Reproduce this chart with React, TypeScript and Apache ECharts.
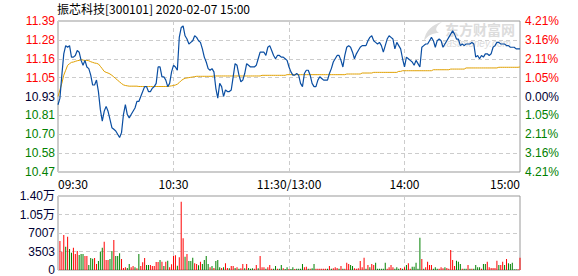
import React, { useEffect, useRef } from "react";
import * as echarts from "echarts";

const titleText = "振芯科技[300101] 2020-02-07 15:00";
const xTickLabels = ["09:30", "10:30", "11:30/13:00", "14:00", "15:00"];
const priceTicks = ["10.47", "10.58", "10.70", "10.81", "10.93", "11.05", "11.16", "11.28", "11.39"];
const pctTicks = ["4.21%", "3.16%", "2.11%", "1.05%", "0.00%", "1.05%", "2.11%", "3.16%", "4.21%"];
const volTicks = ["0", "3503", "7007", "1.05万", "1.40万"];

// minute prices 09:30 .. 11:30, 13:01 .. 15:00 (241 points)
const prices = [
  10.88, 10.92, 11.06, 11.19, 11.24, 11.23, 11.24, 11.17, 11.17, 11.18,
  11.21, 11.20, 11.15, 11.12, 11.15, 11.11, 11.10, 11.06, 11.00, 11.00,
  11.03, 10.96, 10.85, 10.78, 10.84, 10.87, 10.84, 10.79, 10.74, 10.73,
  10.72, 10.70, 10.68, 10.71, 10.82, 10.88, 10.82, 10.80, 10.82, 10.84,
  10.86, 10.90, 10.90, 10.93, 10.96, 10.99, 10.99, 10.96, 10.96, 10.98,
  10.99, 11.01, 11.11, 11.11, 11.05, 11.05, 11.03, 10.99, 11.01, 11.08,
  11.12, 11.11, 11.09, 11.29, 11.35, 11.36, 11.30, 11.28, 11.25, 11.26,
  11.27, 11.30, 11.29, 11.27, 11.26, 11.22, 11.17, 11.14, 11.10, 11.09,
  11.10, 11.08, 10.98, 10.92, 11.01, 10.99, 10.93, 10.97, 10.96, 10.96,
  10.97, 11.05, 11.13, 11.12, 11.06, 11.02, 11.03, 11.07, 11.13, 11.12,
  11.11, 11.11, 11.11, 11.12, 11.16, 11.20, 11.20, 11.20, 11.18, 11.23,
  11.24, 11.21, 11.18, 11.16, 11.18, 11.18, 11.17, 11.17, 11.16, 11.15,
  11.11, 11.08, 11.06, 11.06, 11.07, 11.06, 11.01, 10.99, 11.07, 11.09,
  11.09, 11.06, 11.01, 10.99, 10.99, 11.03, 11.05, 11.04, 11.03, 11.03,
  11.03, 11.07, 11.10, 11.14, 11.16, 11.18, 11.18, 11.15, 11.11, 11.18,
  11.23, 11.24, 11.23, 11.20, 11.16, 11.19, 11.21, 11.23, 11.24, 11.24,
  11.24, 11.27, 11.29, 11.30, 11.27, 11.26, 11.25, 11.26, 11.24, 11.20,
  11.24, 11.28, 11.30, 11.29, 11.28, 11.22, 11.26, 11.24, 11.22, 11.16,
  11.11, 11.17, 11.16, 11.15, 11.14, 11.12, 11.15, 11.13, 11.11, 11.23,
  11.24, 11.25, 11.25, 11.27, 11.29, 11.27, 11.23, 11.27, 11.28, 11.27,
  11.23, 11.25, 11.27, 11.29, 11.31, 11.33, 11.31, 11.28, 11.28, 11.24,
  11.25, 11.24, 11.25, 11.25, 11.25, 11.26, 11.25, 11.17, 11.18, 11.16,
  11.18, 11.17, 11.19, 11.19, 11.18, 11.19, 11.23, 11.24, 11.26, 11.26,
  11.25, 11.25, 11.25, 11.24, 11.24, 11.23, 11.23, 11.23, 11.22, 11.22,
  11.22,
];

const avgPrices = [
  10.930, 10.970, 11.010, 11.060, 11.090, 11.120, 11.130, 11.138, 11.140, 11.144,
  11.148, 11.150, 11.154, 11.152, 11.150, 11.150, 11.148, 11.142, 11.138, 11.134,
  11.132, 11.128, 11.114, 11.099, 11.083, 11.077, 11.073, 11.067, 11.059, 11.049,
  11.039, 11.029, 11.019, 11.009, 11.001, 10.997, 10.995, 10.993, 10.993, 10.993,
  10.993, 10.993, 10.991, 10.991, 10.991, 10.991, 10.991, 10.991, 10.991, 10.991,
  10.991, 10.991, 10.991, 10.991, 10.991, 10.991, 10.991, 10.991, 10.993, 10.995,
  10.997, 11.000, 11.005, 11.015, 11.027, 11.035, 11.041, 11.043, 11.045, 11.047,
  11.049, 11.051, 11.053, 11.053, 11.053, 11.053, 11.053, 11.053, 11.053, 11.053,
  11.053, 11.055, 11.055, 11.055, 11.055, 11.055, 11.055, 11.055, 11.055, 11.055,
  11.055, 11.055, 11.055, 11.055, 11.055, 11.055, 11.055, 11.055, 11.055, 11.055,
  11.055, 11.055, 11.055, 11.055, 11.055, 11.055, 11.059, 11.059, 11.059, 11.059,
  11.059, 11.059, 11.059, 11.059, 11.059, 11.059, 11.059, 11.059, 11.059, 11.063,
  11.063, 11.063, 11.063, 11.063, 11.063, 11.063, 11.063, 11.063, 11.063, 11.063,
  11.063, 11.063, 11.063, 11.063, 11.063, 11.063, 11.063, 11.063, 11.063, 11.063,
  11.063, 11.063, 11.063, 11.063, 11.063, 11.063, 11.063, 11.063, 11.063, 11.063,
  11.067, 11.067, 11.067, 11.067, 11.067, 11.067, 11.067, 11.067, 11.073, 11.073,
  11.073, 11.073, 11.073, 11.073, 11.077, 11.077, 11.077, 11.077, 11.077, 11.077,
  11.077, 11.077, 11.077, 11.077, 11.077, 11.077, 11.077, 11.083, 11.083, 11.087,
  11.087, 11.087, 11.087, 11.087, 11.087, 11.087, 11.087, 11.087, 11.087, 11.087,
  11.087, 11.087, 11.087, 11.087, 11.087, 11.093, 11.093, 11.093, 11.093, 11.093,
  11.093, 11.093, 11.093, 11.093, 11.097, 11.097, 11.097, 11.097, 11.097, 11.097,
  11.097, 11.097, 11.104, 11.104, 11.104, 11.104, 11.104, 11.104, 11.104, 11.104,
  11.104, 11.104, 11.104, 11.104, 11.104, 11.104, 11.104, 11.104, 11.104, 11.108,
  11.108, 11.108, 11.108, 11.108, 11.108, 11.108, 11.108, 11.108, 11.108, 11.108,
  11.110,
];

const volumes = [
  0, 5490, 3470, 6630, 4420, 6310, 3980, 3280, 4230, 3030,
  3600, 2840, 3030, 3030, 2650, 2650, 950, 2270, 2150, 2270,
  1140, 1700, 3470, 4230, 5370, 1890, 1890, 2080, 3600, 5680,
  2650, 2650, 3160, 2080, 380, 500, 380, 1140, 500, 760,
  500, 320, 3030, 760, 1450, 2270, 950, 950, 950, 760,
  760, 1510, 1510, 1890, 1580, 760, 1580, 1770, 500, 1070,
  2650, 2780, 820, 2400, 12940, 6000, 2520, 3030, 1700, 1700,
  2340, 1260, 1140, 880, 1580, 1140, 1890, 2650, 1140, 500,
  760, 380, 1700, 1890, 500, 380, 500, 1260, 380, 320,
  760, 760, 380, 500, 250, 320, 1140, 320, 1140, 380,
  250, 320, 250, 950, 320, 2650, 500, 500, 250, 500,
  950, 250, 250, 760, 250, 250, 950, 320, 200, 500,
  200, 200, 500, 200, 250, 250, 250, 1140, 500, 630,
  250, 250, 320, 1140, 250, 250, 250, 250, 250, 250,
  250, 760, 250, 320, 500, 380, 250, 760, 250, 250,
  1390, 1140, 950, 760, 320, 250, 320, 1700, 500, 2340,
  250, 950, 500, 1140, 950, 1390, 250, 250, 250, 250,
  1390, 250, 500, 950, 500, 250, 500, 250, 380, 250,
  500, 950, 1260, 250, 630, 630, 1390, 250, 6120, 2080,
  250, 500, 1580, 950, 950, 250, 500, 250, 250, 500,
  320, 500, 380, 250, 3790, 1890, 760, 1770, 1580, 1140,
  250, 250, 250, 950, 250, 250, 250, 950, 500, 500,
  250, 1140, 1140, 1580, 500, 380, 380, 380, 1770, 950,
  950, 1580, 950, 2080, 1260, 1140, 1390, 130, 130, 130,
  2340,
];

// r = up minute (red), g = down minute (green)
const volumeDirs = (
  "rrrrgrggrr" + "rgggrrgggr" + "rgggrrrggr" + "gggrrrggrr" + "grgrrrggrr" +
  "rrrgrgrgrr" + "rrgrrrgrgg" + "grrgrggggr" + "grgggrgrrg" + "rrgrgrrgrg" +
  "ggrrgrrrgr" + "rrggrggrgg" + "rggrggggrr" + "grggrrrrrr" + "grgrrrgrgr" +
  "rrggrrrrrr" + "grgrrggggg" + "grrrrgggrg" + "rgrrgggggr" + "grrrrgggrr" +
  "rgrrrrrggg" + "rggrgrgggg" + "rggrrrrrrg" + "rrgrgggggr" + "r"
).split("");

const UP = "#ff0000";
const DOWN = "#008000";
const SANS = "'Liberation Sans', Arial, 'Noto Sans CJK SC', sans-serif";
const CJK = "'Noto Sans CJK SC', sans-serif";

echarts.graphic.registerShape(
  "emlogo",
  echarts.graphic.extendPath("M19 0 C10 2 2 9 1 19 C5 13 10 11 16 11 C11 8 13 4 19 0 Z", {})
);

const gridLine = { show: true, lineStyle: { color: "#cccccc", type: [4, 3], width: 1 } };

export default function App() {
  const ref = useRef<HTMLDivElement>(null);
  useEffect(() => {
    if (!ref.current) return;
    const chart = echarts.init(ref.current, undefined, { renderer: "svg" });
    const labelColor = (i: number) => (i < 4 ? DOWN : i === 4 ? "#000033" : UP);
    chart.setOption({
      animation: false,
      backgroundColor: "#ffffff",
      title: {
        text: titleText,
        left: 57,
        top: 2,
        padding: 0,
        textStyle: { fontSize: 12, fontWeight: "normal", color: "#000", fontFamily: CJK },
      },
      graphic: [
        { type: "emlogo", x: 423, y: 22, z: -10, style: { fill: "#dcdcdc" } },
        {
          type: "text",
          x: 445,
          y: 22,
          z: -10,
          style: { text: "东方财富网", fill: "#dcdcdc", font: "bold 14px 'Noto Sans CJK SC'" },
        },
        {
          type: "text",
          x: 441,
          y: 38,
          z: -10,
          style: { text: "eastmoney.com", fill: "#dcdcdc", font: "italic 10px 'Liberation Sans'" },
        },
      ],
      grid: [
        { left: 58, right: 58, top: 21, height: 151, show: true, borderColor: "#999", borderWidth: 1, backgroundColor: "transparent" },
        { left: 58, right: 58, top: 196, height: 74, show: true, borderColor: "#999", borderWidth: 1, backgroundColor: "transparent" },
      ],
      xAxis: [
        {
          type: "value",
          gridIndex: 0,
          min: 0,
          max: 240,
          interval: 60,
          axisLine: { show: false },
          axisTick: { show: false },
          axisLabel: {
            formatter: (v: number) => xTickLabels[Math.round(v / 60)],
            margin: 5,
            fontSize: 12,
            color: "#000",
            fontFamily: CJK,
            alignMinLabel: "left",
            alignMaxLabel: "right",
          },
          splitLine: gridLine,
        },
        {
          type: "value",
          gridIndex: 1,
          min: 0,
          max: 240,
          interval: 60,
          axisLine: { show: false },
          axisTick: { show: false },
          axisLabel: { show: false },
          splitLine: gridLine,
        },
      ],
      yAxis: [
        {
          type: "value",
          gridIndex: 0,
          min: 10.47,
          max: 11.39,
          interval: 0.115,
          axisLine: { show: false },
          axisTick: { show: false },
          axisLabel: {
            formatter: (_v: number, i: number) => priceTicks[i],
            color: (_v: any, i: number) => labelColor(i),
            margin: 3,
            fontSize: 12,
            fontFamily: SANS,
          },
          splitLine: gridLine,
        },
        {
          type: "value",
          gridIndex: 0,
          position: "right",
          min: 10.47,
          max: 11.39,
          interval: 0.115,
          axisLine: { show: false },
          axisTick: { show: false },
          axisLabel: {
            formatter: (_v: number, i: number) => pctTicks[i],
            color: (_v: any, i: number) => labelColor(i),
            margin: 5,
            fontSize: 12,
            fontFamily: SANS,
          },
          splitLine: { show: false },
        },
        {
          type: "value",
          gridIndex: 1,
          min: 0,
          max: 14014,
          interval: 3503.5,
          axisLine: { show: false },
          axisTick: { show: false },
          axisLabel: {
            formatter: (_v: number, i: number) => volTicks[i],
            color: "#000033",
            margin: 3,
            fontSize: 12,
            fontFamily: SANS,
          },
          splitLine: gridLine,
        },
      ],
      series: [
        {
          type: "line",
          xAxisIndex: 0,
          yAxisIndex: 0,
          data: avgPrices.map((p, i) => [i, p]),
          symbol: "none",
          lineStyle: { color: "#e0a000", width: 1 },
          z: 3,
        },
        {
          type: "line",
          xAxisIndex: 0,
          yAxisIndex: 0,
          data: prices.map((p, i) => [i, p]),
          symbol: "none",
          lineStyle: { color: "#0a4ea2", width: 1.2 },
          z: 4,
        },
        {
          type: "bar",
          xAxisIndex: 1,
          yAxisIndex: 2,
          barWidth: 1,
          data: volumes.map((v, i) => ({
            value: [i, v],
            itemStyle: { color: volumeDirs[i] === "r" ? UP : DOWN },
          })),
        },
      ],
    });
    return () => chart.dispose();
  }, []);
  return (
    <div
      ref={ref}
      style={{ position: "absolute", left: 0, top: 0, width: 578, height: 276, background: "#fff" }}
    />
  );
}
